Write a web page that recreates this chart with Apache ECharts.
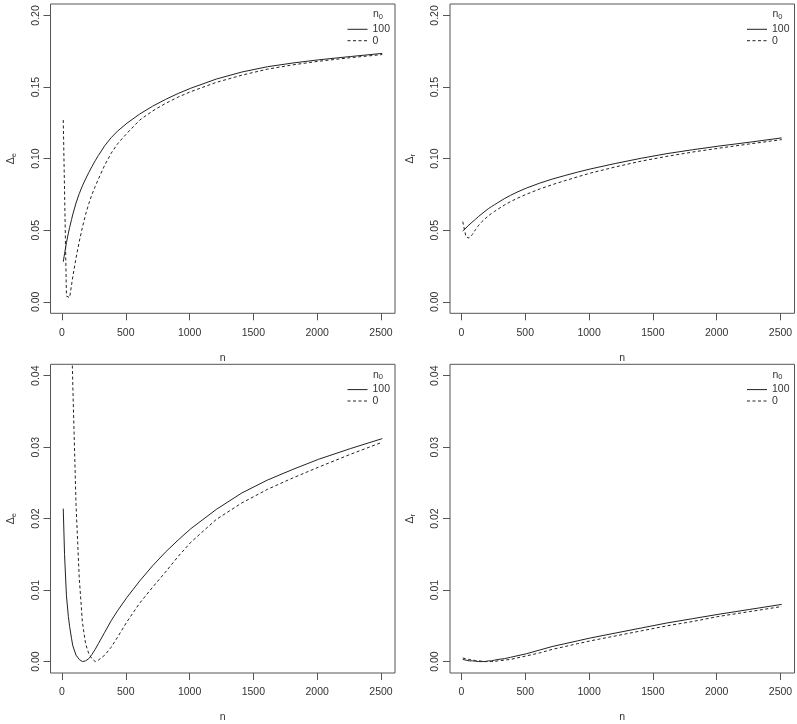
<!DOCTYPE html>
<html>
<head>
<meta charset="utf-8">
<script src="https://cdn.jsdelivr.net/npm/echarts@6/dist/echarts.min.js"></script>
<style>
html,body{margin:0;padding:0;background:#fff;}
#c{width:797px;height:724px;}
</style>
</head>
<body>
<div id="c"></div>
<script>
// sample sizes n (shared by all curves; null = no point at that n)
const nValues = [10, 20, 35, 50, 60, 75, 85, 110, 135, 160, 185, 210, 235, 260, 285, 335, 385, 435, 510, 610, 710, 810, 910, 1010, 1210, 1410, 1610, 1810, 2010, 2260, 2510];

// top-left: Delta_e, n0 = 100 (solid) and n0 = 0 (dashed)
const deltaE_top_n100 = [0.028, 0.0335, 0.0413, 0.048, 0.052, 0.0575, 0.0612, 0.069, 0.0755, 0.081, 0.0858, 0.0903, 0.0945, 0.0985, 0.1022, 0.109, 0.1146, 0.1192, 0.1248, 0.1312, 0.1366, 0.1413, 0.1455, 0.1492, 0.1556, 0.1605, 0.1642, 0.1668, 0.169, 0.1713, 0.1735];
const deltaE_top_n0 = [0.127, null, 0.004, null, 0.003, null, 0.0177, 0.0305, 0.042, 0.052, 0.061, 0.0685, 0.075, 0.0805, 0.0857, 0.0955, 0.1037, 0.1103, 0.1178, 0.127, 0.1333, 0.1385, 0.143, 0.1468, 0.1533, 0.1583, 0.1625, 0.1655, 0.168, 0.1705, 0.1727];

// top-right: Delta_r
const deltaR_top_n100 = [0.0495, 0.050, 0.0515, 0.053, 0.054, 0.055, 0.0557, 0.0577, 0.0597, 0.0615, 0.0633, 0.065, 0.0665, 0.0679, 0.0693, 0.072, 0.0744, 0.0766, 0.0795, 0.0828, 0.0857, 0.0882, 0.0906, 0.0928, 0.0967, 0.1003, 0.1035, 0.1062, 0.1087, 0.1115, 0.1145];
const deltaR_top_n0 = [0.056, null, 0.0455, null, 0.0445, null, 0.047, 0.0505, 0.0535, 0.056, 0.058, 0.060, 0.0617, 0.0632, 0.0647, 0.0675, 0.070, 0.0722, 0.0752, 0.0787, 0.0818, 0.0846, 0.0873, 0.0899, 0.0943, 0.0983, 0.1016, 0.1046, 0.1072, 0.1103, 0.1133];

// bottom-left: Delta_e
const deltaE_bot_n100 = [0.0214, 0.0150, 0.0092, 0.0063, 0.0049, 0.0032, 0.0022, 0.0009, 0.0003, 0.0000, 0.0001, 0.0004, 0.0010, 0.0017, 0.0025, 0.0041, 0.0057, 0.0071, 0.0090, 0.0113, 0.0134, 0.0153, 0.0170, 0.0186, 0.0213, 0.0236, 0.0254, 0.0269, 0.0283, 0.0298, 0.0312];
const deltaE_bot_n0 = [0.25, null, 0.12, null, 0.058, null, 0.0385, 0.022, 0.0118, 0.0055, 0.0025, 0.0011, 0.0004, 0.0000, 0.0002, 0.0009, 0.0020, 0.0034, 0.0056, 0.0082, 0.0104, 0.0125, 0.0147, 0.0167, 0.0199, 0.0222, 0.0241, 0.0257, 0.0272, 0.0290, 0.0307];

// bottom-right: Delta_r
const deltaR_bot_n100 = [0.0003, 0.0003, 0.0002, 0.00015, 0.0001, 0.0001, 0.0001, 0.00005, 0.0, 0.0, 0.0, 0.0001, 0.0001, 0.0002, 0.0003, 0.0004, 0.0006, 0.0008, 0.0011, 0.0016, 0.0021, 0.0025, 0.0029, 0.0033, 0.0040, 0.0047, 0.0054, 0.0060, 0.0066, 0.0073, 0.0080];
const deltaR_bot_n0 = [0.0005, null, 0.0004, null, 0.0003, null, 0.0002, 0.00015, 0.0001, 0.00005, 0.0, 0.0, 0.0, 0.0, 0.0001, 0.0002, 0.0003, 0.0005, 0.0008, 0.0012, 0.0017, 0.0021, 0.0025, 0.0029, 0.0036, 0.0043, 0.0050, 0.0056, 0.0063, 0.0070, 0.0077];

// axis ticks
const xTicks = [0, 500, 1000, 1500, 2000, 2500];
const yTicksTop = [0, 0.05, 0.10, 0.15, 0.20];
const yTicksBottom = [0, 0.01, 0.02, 0.03, 0.04];
const legendNames = ['100', '0'];
const yTitles = ['e', 'r', 'e', 'r'];

const FONT = 'Liberation Sans, Arial, Helvetica, sans-serif';
const TXT = '#333';
const AX = '#555';
const INK = '#222';

const panels = [
  {left: 50.5, top: 4, yMin: -0.008, yMax: 0.208, ticks: yTicksTop, s: deltaE_top_n100, d: deltaE_top_n0},
  {left: 450, top: 4, yMin: -0.008, yMax: 0.208, ticks: yTicksTop, s: deltaR_top_n100, d: deltaR_top_n0},
  {left: 50.5, top: 364.3, yMin: -0.0016, yMax: 0.0416, ticks: yTicksBottom, s: deltaE_bot_n100, d: deltaE_bot_n0},
  {left: 450, top: 364.3, yMin: -0.0016, yMax: 0.0416, ticks: yTicksBottom, s: deltaR_bot_n100, d: deltaR_bot_n0}
];
const GW = 344.5, GH = 309.3;

function pairs(vals) {
  const out = [];
  nValues.forEach((n, i) => { if (vals[i] !== null) out.push([n, vals[i]]); });
  return out;
}

const grids = [], xAxes = [], yAxes = [], series = [], legends = [], graphics = [];
panels.forEach((p, i) => {
  grids.push({left: p.left, top: p.top, width: GW, height: GH, show: true,
    borderColor: AX, borderWidth: 1, backgroundColor: 'transparent', containLabel: false});
  xAxes.push({
    type: 'value', gridIndex: i, min: -90, max: 2610, position: 'bottom',
    axisLine: {show: false, onZero: false}, splitLine: {show: false},
    axisTick: {show: true, inside: false, length: 7, customValues: xTicks, lineStyle: {color: AX, width: 1}},
    axisLabel: {customValues: xTicks, fontSize: 10.5, fontFamily: FONT, color: TXT, margin: 14,
      formatter: v => String(v)},
    name: 'n', nameLocation: 'middle', nameGap: 39,
    nameTextStyle: {fontSize: 10.5, fontFamily: FONT, color: TXT}
  });
  yAxes.push({
    type: 'value', gridIndex: i, min: p.yMin, max: p.yMax, position: 'left',
    axisLine: {show: false, onZero: false}, splitLine: {show: false},
    axisTick: {show: true, inside: false, length: 7, customValues: p.ticks, lineStyle: {color: AX, width: 1}},
    axisLabel: {customValues: p.ticks, rotate: 90, fontSize: 10.5, fontFamily: FONT, color: TXT, margin: 9,
      formatter: v => v.toFixed(2)},
    name: '{a|Δ}{b|' + yTitles[i] + '}', nameLocation: 'middle', nameGap: 33, nameRotate: 90,
    nameTextStyle: {fontFamily: FONT, color: TXT,
      rich: {a: {fontSize: 10.5, fontFamily: FONT, color: TXT},
             b: {fontSize: 7.5, fontFamily: FONT, color: TXT, padding: [5, 0, 0, 0]}}}
  });
  series.push({
    type: 'line', name: legendNames[0], xAxisIndex: i, yAxisIndex: i, data: pairs(p.s),
    showSymbol: false, symbol: 'none', silent: true, clip: true,
    itemStyle: {color: INK},
    lineStyle: {color: INK, width: 1, type: 'solid'}
  });
  series.push({
    type: 'line', name: legendNames[1], xAxisIndex: i, yAxisIndex: i, data: pairs(p.d),
    showSymbol: false, symbol: 'none', silent: true, clip: true, connectNulls: true,
    itemStyle: {color: INK},
    lineStyle: {color: INK, width: 1, type: [3, 2.5]}
  });
  legends.push({
    data: legendNames, orient: 'vertical', left: p.left + 296.5, top: p.top + 19.6,
    itemWidth: 20, itemHeight: 8, itemGap: 0, padding: 0, selectedMode: false,
    itemStyle: {opacity: 0},
    lineStyle: {width: 1, color: INK},
    textStyle: {fontSize: 10.5, fontFamily: FONT, color: TXT, lineHeight: 11.4}
  });
  graphics.push({
    type: 'text', left: p.left + 322.5, top: p.top + 5, silent: true,
    style: {text: '{a|n}{b|0}', fill: TXT,
      rich: {a: {fontSize: 10.5, fontFamily: FONT, fill: TXT, color: TXT},
             b: {fontSize: 7.5, fontFamily: FONT, fill: TXT, color: TXT, padding: [5, 0, 0, 0]}}}
  });
});

const chart = echarts.init(document.getElementById('c'), null, {renderer: 'canvas'});
chart.setOption({
  animation: false,
  backgroundColor: '#fff',
  grid: grids, xAxis: xAxes, yAxis: yAxes, series: series,
  legend: legends, graphic: graphics
});
</script>
</body>
</html>
